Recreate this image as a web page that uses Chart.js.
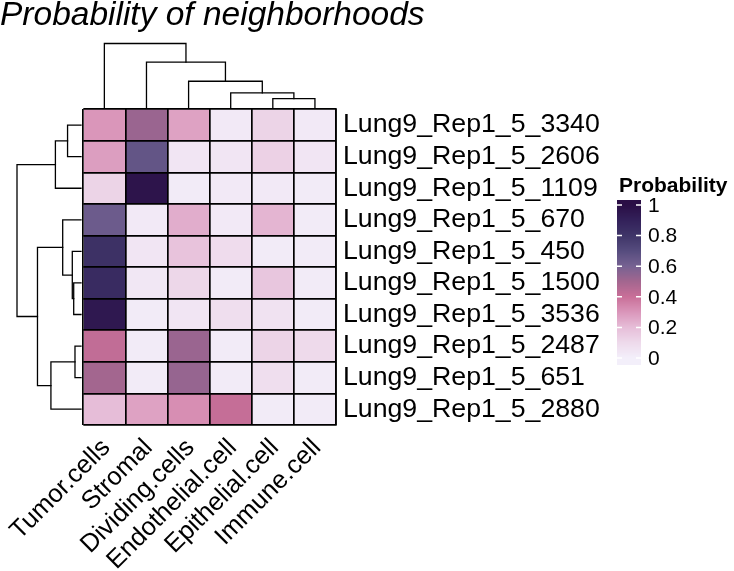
<!DOCTYPE html>
<html><head><meta charset="utf-8">
<script src="https://cdn.jsdelivr.net/npm/chart.js@4"></script>
<style>html,body{margin:0;padding:0;background:#fff}</style>
</head><body>
<canvas id="c" width="734" height="571"></canvas>
<script>
// ---------------- data ----------------
const cellTypes = ['Tumor.cells','Stromal','Dividing.cells','Endothelial.cell','Epithelial.cell','Immune.cell'];
const neighborhoods = ['Lung9_Rep1_5_3340','Lung9_Rep1_5_2606','Lung9_Rep1_5_1109','Lung9_Rep1_5_670','Lung9_Rep1_5_450',
  'Lung9_Rep1_5_1500','Lung9_Rep1_5_3536','Lung9_Rep1_5_2487','Lung9_Rep1_5_651','Lung9_Rep1_5_2880'];
const tumorCells      = [0.30, 0.28, 0.12, 0.63, 0.82, 0.85, 0.95, 0.42, 0.50, 0.20];
const stromal         = [0.52, 0.66, 0.97, 0.03, 0.05, 0.04, 0.02, 0.02, 0.02, 0.27];
const dividingCells   = [0.27, 0.05, 0.02, 0.24, 0.18, 0.11, 0.05, 0.52, 0.53, 0.32];
const endothelialCell = [0.03, 0.05, 0.03, 0.03, 0.09, 0.02, 0.08, 0.02, 0.02, 0.41];
const epithelialCell  = [0.12, 0.13, 0.03, 0.22, 0.02, 0.17, 0.06, 0.12, 0.08, 0.02];
const immuneCell      = [0.03, 0.05, 0.02, 0.02, 0.02, 0.02, 0.02, 0.10, 0.02, 0.02];
const seriesByType = [tumorCells, stromal, dividingCells, endothelialCell, epithelialCell, immuneCell];

// dendrograms (hclust-style merges: negative = leaf, positive = earlier merge), heights relative
const colMerge   = [[-5,-6],[-4,1],[-3,2],[-2,3],[-1,4]];
const colHeights = [0.14, 0.23, 0.41, 0.71, 1.0];
const rowMerge   = [[-1,-2],[-3,1],[-6,-7],[-5,3],[-4,4],[-8,-9],[-10,6],[5,7],[2,8]];
const rowHeights = [0.21, 0.40, 0.114, 0.136, 0.286, 0.094, 0.47, 0.68, 1.0];

const legendTicks = [0, 0.2, 0.4, 0.6, 0.8, 1];
const legendTickLabels = ['0', '0.2', '0.4', '0.6', '0.8', '1'];

// ---------------- colour scale ----------------
const colorStops = [
  [0.0, '#F3EFFA'], [0.1, '#EEDAEB'], [0.2, '#E6BDD8'], [0.3, '#DA96BA'], [0.4, '#C96F98'],
  [0.5, '#A3668F'], [0.6, '#766292'], [0.7, '#564C7E'], [0.8, '#3F3568'], [0.9, '#33215A'], [1.0, '#2A0E45']];
function hex2rgb(h){ return [parseInt(h.substr(1,2),16), parseInt(h.substr(3,2),16), parseInt(h.substr(5,2),16)]; }
function colorFor(v){
  v = Math.max(0, Math.min(1, v));
  for (let i = 1; i < colorStops.length; i++) {
    if (v <= colorStops[i][0]) {
      const [v0, c0] = colorStops[i-1], [v1, c1] = colorStops[i];
      const t = (v - v0) / (v1 - v0), a = hex2rgb(c0), b = hex2rgb(c1);
      return 'rgb(' + a.map((x, k) => Math.round(x + (b[k] - x) * t)).join(',') + ')';
    }
  }
  return colorStops[colorStops.length-1][1];
}

const FONT = "'Liberation Sans', Arial, Helvetica, sans-serif";

function drawTree(ctx, merge, heights, posFn, hFn, horizontal) {
  const pos = [];
  const get = id => id < 0 ? { p: posFn(-id - 1), h: 0 } : { p: pos[id - 1], h: heights[id - 1] };
  merge.forEach((m, i) => {
    const A = get(m[0]), B = get(m[1]), hp = hFn(heights[i]);
    ctx.beginPath();
    if (!horizontal) {
      ctx.moveTo(A.p, hFn(A.h)); ctx.lineTo(A.p, hp); ctx.lineTo(B.p, hp); ctx.lineTo(B.p, hFn(B.h));
    } else {
      ctx.moveTo(hFn(A.h), A.p); ctx.lineTo(hp, A.p); ctx.lineTo(hp, B.p); ctx.lineTo(hFn(B.h), B.p);
    }
    ctx.stroke();
    pos[i] = (A.p + B.p) / 2;
  });
}

const extrasPlugin = {
  id: 'extras',
  afterDraw(chart) {
    const ctx = chart.ctx, a = chart.chartArea;
    const xs = chart.scales.x2, ys = chart.scales.y;
    ctx.save();
    ctx.strokeStyle = '#000'; ctx.lineWidth = 1.3; ctx.lineCap = 'square';
    const span = 64;
    drawTree(ctx, colMerge, colHeights, i => xs.getPixelForValue(i), h => a.top - 1.8 - h * span, false);
    drawTree(ctx, rowMerge, rowHeights, i => ys.getPixelForValue(i), h => a.left - 2.3 - h * span, true);

    // colour legend
    const lx = 617, lw = 24, y0 = 358, y1 = 205;           // value 0 -> y0, value 1 -> y1
    const vy = v => y0 + (y1 - y0) * v;
    const top = vy(1.03), bot = vy(-0.045);
    for (let y = Math.floor(top); y < bot; y++) {
      const v = (y0 - (y + 0.5)) / (y0 - y1);
      ctx.fillStyle = colorFor(v);
      ctx.fillRect(lx, y, lw, 1);
    }
    ctx.strokeStyle = '#fff'; ctx.lineWidth = 1.5; ctx.lineCap = 'butt';
    ctx.fillStyle = '#000'; ctx.font = '21px ' + FONT; ctx.textBaseline = 'middle'; ctx.textAlign = 'left';
    legendTicks.forEach((t, i) => {
      const y = vy(t);
      ctx.beginPath();
      ctx.moveTo(lx, y); ctx.lineTo(lx + 5, y);
      ctx.moveTo(lx + lw - 5, y); ctx.lineTo(lx + lw, y);
      ctx.stroke();
      ctx.fillText(legendTickLabels[i], lx + 31, y + 1);
    });
    ctx.font = 'bold 21px ' + FONT; ctx.textBaseline = 'alphabetic';
    ctx.fillText('Probability', 619, 192);
    ctx.restore();
  }
};

const datasets = seriesByType.map((vals, c) => ({
  label: cellTypes[c],
  data: vals.map(() => [c, c + 1]),
  backgroundColor: vals.map(colorFor),
  borderWidth: 0,
  grouped: false,
  barPercentage: 1,
  categoryPercentage: 1,
  xAxisID: 'x',
  yAxisID: 'y'
}));

const TITLE_SIZE = 33.5, TITLE_H = 36;
const HEAT = { left: 83.3, top: 109.3, right: 336, bottom: 425 };

new Chart(document.getElementById('c'), {
  type: 'bar',
  data: { labels: neighborhoods, datasets },
  plugins: [extrasPlugin],
  options: {
    indexAxis: 'y',
    responsive: false,
    animation: false,
    layout: { padding: 0 },
    plugins: {
      legend: { display: false },
      tooltip: { enabled: false },
      title: {
        display: true, text: 'Probability of neighborhoods', align: 'start', color: '#000',
        font: { family: FONT, size: TITLE_SIZE, style: 'italic', weight: 'normal', lineHeight: TITLE_H / TITLE_SIZE },
        padding: { top: -2, bottom: 2 }
      }
    },
    scales: {
      x: {
        type: 'linear', position: 'top', min: 0, max: cellTypes.length,
        ticks: { display: false, stepSize: 1 },
        grid: { color: '#000', lineWidth: 1.7, drawTicks: false, z: 1 },
        border: { display: false },
        afterFit: s => { s.height = HEAT.top - TITLE_H; s.paddingLeft = 0; s.paddingRight = 0; }
      },
      x2: {
        type: 'category', position: 'bottom', labels: cellTypes, offset: true,
        grid: { display: false, drawTicks: false }, border: { display: false },
        ticks: { color: '#000', autoSkip: false, minRotation: 45, maxRotation: 45, padding: 8, labelOffset: 2,
                 font: { family: FONT, size: 25.5 } },
        afterFit: s => { s.height = 571 - HEAT.bottom; s.paddingLeft = 0; s.paddingRight = 0; }
      },
      y: {
        type: 'category', position: 'right', offset: true,
        grid: { color: '#000', lineWidth: 1.7, drawTicks: false, offset: true, z: 1 },
        border: { display: true, color: '#000', width: 1.7, z: 1 },
        ticks: { color: '#000', autoSkip: false, padding: 7, font: { family: FONT, size: 26.7 } },
        afterFit: s => { s.width = 734 - HEAT.right; s.paddingTop = 0; s.paddingBottom = 0; }
      },
      yl: {
        type: 'linear', position: 'left', display: true,
        ticks: { display: false }, grid: { display: false, drawTicks: false }, border: { display: false },
        afterFit: s => { s.width = HEAT.left; s.paddingTop = 0; s.paddingBottom = 0; }
      }
    }
  }
});
</script>
</body></html>
